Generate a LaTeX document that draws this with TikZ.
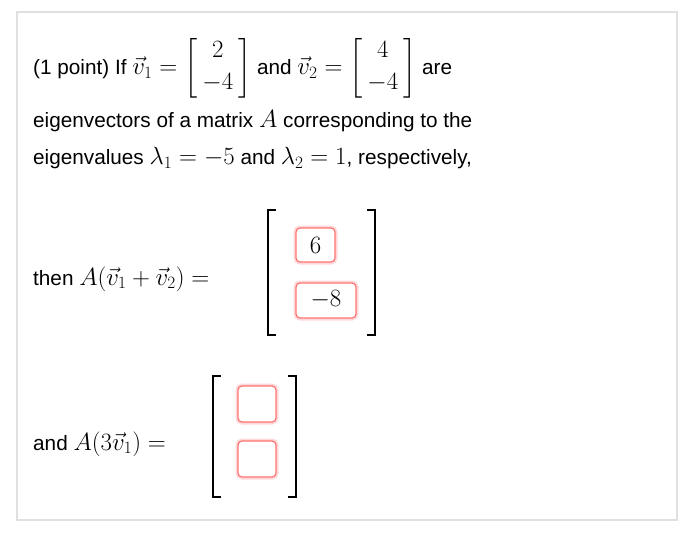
\documentclass[tikz,border=0pt]{standalone}
\usepackage{amsmath}
\usepackage{fontspec}
\setmainfont{Liberation Sans}
\DeclareMathSizes{20.74}{24.88}{17.28}{14.4}
\tikzset{
  txt/.style={anchor=base west,inner sep=0pt,font=\fontsize{20.74}{26}\selectfont},
  ans/.style={draw=red!55,line width=1.2pt,rounded corners=4pt,fill=white,
    preaction={draw=red!15,line width=5pt,rounded corners=4pt}},
  brk/.style={line width=1.3pt}
}
\newcommand{\vv}[1]{\vec{v}_{#1}}
\begin{document}
\begin{tikzpicture}[x=1pt,y=-1pt]
\useasboundingbox (0,0) rectangle (700,537);
\draw[draw=black!12,line width=1.5pt] (17,12) rectangle (677,520);
\node[txt] (l1) at (33,75) {(1 point) If $\vv1=\left[\begin{array}{c}2\\[6pt]-4\end{array}\right]$ and $\vv2=\left[\begin{array}{c}4\\[6pt]-4\end{array}\right]$ are};
\node[txt] (l2) at (33,128) {eigenvectors of a matrix $A$ corresponding to the};
\node[txt] (l3) at (33,165) {eigenvalues $\lambda_1=-5$ and $\lambda_2=1$, respectively,};
\node[txt] (l4) at (33,285) {then $A(\vv1+\vv2)=$};
\draw[brk] (276,210) -- (268,210) -- (268,335) -- (276,335);
\draw[brk] (367,210) -- (375,210) -- (375,335) -- (367,335);
\draw[ans] (296,228) rectangle (335,262);
\node[txt,anchor=center] (a1) at (315.5,245) {$6$};
\draw[ans] (296,283) rectangle (356,318);
\node[txt,anchor=center] (a2) at (326,300) {$-8$};
\node[txt] (l5) at (33,450) {and $A(3\vv1)=$};
\draw[brk] (221,376) -- (213,376) -- (213,497) -- (221,497);
\draw[brk] (288,376) -- (296,376) -- (296,497) -- (288,497);
\draw[ans] (238,386) rectangle (276,422);
\draw[ans] (238,441) rectangle (276,477);
\end{tikzpicture}
\end{document}
